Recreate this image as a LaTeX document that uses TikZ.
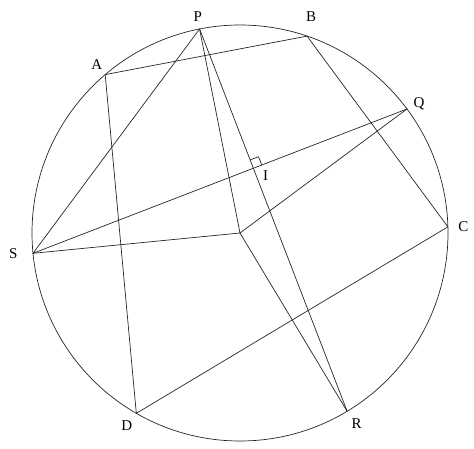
\documentclass[tikz,border=0pt]{standalone}
\usepackage{fontspec}
\setmainfont{Liberation Serif}
\usetikzlibrary{calc}
\begin{document}
\begin{tikzpicture}[x=1pt, y=-1pt, line join=round, line cap=round,
  seg/.style={line width=0.7pt, draw=black!85},
  lbl/.style={font=\fontsize{15}{15}\selectfont, inner sep=0pt}]
\useasboundingbox (0,0) rectangle (474,449);
\coordinate (O) at (240,233);
\draw[seg] (O) circle[radius=208];

% points on the circle
\coordinate (P) at ($(O)+(-101.2:208)$);
\coordinate (B) at ($(O)+(-71.2:208)$);
\coordinate (A) at ($(O)+(-130.4:208)$);
\coordinate (Q) at ($(O)+(-36.6:208)$);
\coordinate (C) at ($(O)+(-1.7:208)$);
\coordinate (S) at ($(O)+(174.4:208)$);
\coordinate (D) at ($(O)+(119.9:208)$);
\coordinate (R) at ($(O)+(59:208)$);
\coordinate (I) at (intersection of P--R and S--Q);

\draw[seg] (A)--(B)--(C)--(D)--cycle;
\draw[seg] (P)--(R);
\draw[seg] (S)--(Q);
\draw[seg] (S)--(P);
\foreach \i in {P,Q,R,S}
    \draw[seg] (O)--(\i);

% right angle at I
\coordinate (I1) at ($(I)!9pt!(P)$);
\coordinate (I2) at ($(I)!9pt!(Q)$);
\draw[seg] (I1)--($(I1)+(I2)-(I)$)--(I2);

\node[lbl] (lP) at (197.7,16.7) {P};
\node[lbl] (lB) at (311,16.7) {B};
\node[lbl] (lA) at (96.7,65) {A};
\node[lbl] (lQ) at (419,104) {Q};
\node[lbl] (lC) at (463.3,226.7) {C};
\node[lbl] (lS) at (13.3,254) {S};
\node[lbl] (lD) at (126.7,425.7) {D};
\node[lbl] (lR) at (356.7,423.3) {R};
\node[lbl] (lI) at (265.7,175.7) {I};
\end{tikzpicture}
\end{document}
